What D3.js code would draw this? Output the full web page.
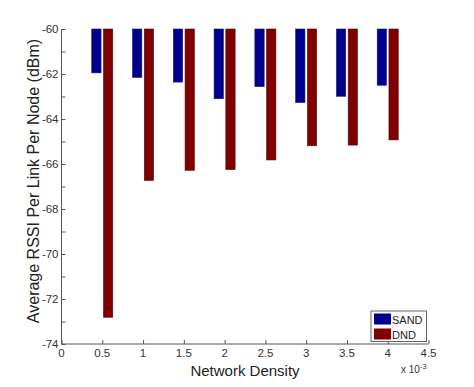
<!DOCTYPE html>
<html>
<head>
<meta charset="utf-8">
<script src="https://cdn.jsdelivr.net/npm/d3@7"></script>
<style>
  body { margin: 0; background: #fff; }
  svg { font-family: "Liberation Sans", Arial, sans-serif; }
</style>
</head>
<body>
<div id="chart"></div>
<script>
const width = 474;
const height = 387;

// density values (x 10^-3)
const densities = [0.5, 1, 1.5, 2, 2.5, 3, 3.5, 4];
const sandValues = [-61.95, -62.15, -62.36, -63.1, -62.56, -63.27, -62.99, -62.5];
const dndValues = [-72.81, -66.73, -66.28, -66.25, -65.82, -65.19, -65.16, -64.93];
const seriesNames = ['SAND', 'DND'];
const seriesColors = ['#00008f', '#800000'];
const xTicks = [0, 0.5, 1, 1.5, 2, 2.5, 3, 3.5, 4, 4.5];
const yLabelTicks = [-60, -62, -64, -66, -68, -70, -72, -74];

const margin = { left: 61.5, right: 474 - 428.5, top: 29, bottom: 387 - 344 };

const x = d3.scaleLinear().domain([0, 4.5]).range([margin.left, width - margin.right]);
const y = d3.scaleLinear().domain([-60, -74]).range([margin.top, height - margin.bottom]);

const barWidth = 0.114; // data units
const barOffset = 0.072;

const svg = d3.select('#chart')
  .append('svg')
  .attr('width', width)
  .attr('height', height);

const series = [sandValues, dndValues];

series.forEach((values, si) => {
  const off = si === 0 ? -barOffset : barOffset;
  svg.append('g')
    .selectAll('rect')
    .data(densities.map((d, i) => ({ d, v: values[i] })))
    .join('rect')
    .attr('x', p => x(p.d + off - barWidth / 2))
    .attr('width', x(barWidth) - x(0))
    .attr('y', y(-60))
    .attr('height', p => y(p.v) - y(-60))
    .attr('fill', seriesColors[si])
    .attr('stroke', si === 0 ? '#1a1a6a' : '#4a1010')
    .attr('stroke-width', 0.6);
});

// y axis
const yAxis = svg.append('g')
  .attr('transform', `translate(${margin.left},0)`)
  .call(d3.axisRight(y).tickValues(d3.range(-60, -74.5, -1)).tickSize(4).tickFormat(''));
yAxis.select('.domain').remove();
svg.append('line')
  .attr('x1', margin.left).attr('x2', margin.left)
  .attr('y1', y(-60)).attr('y2', y(-74))
  .attr('stroke', '#555').attr('stroke-width', 1);
yAxis.selectAll('line').attr('stroke', '#555');

svg.append('g')
  .selectAll('text')
  .data(yLabelTicks)
  .join('text')
  .attr('x', margin.left - 3)
  .attr('y', d => y(d) + 4)
  .attr('text-anchor', 'end')
  .attr('font-size', 11.5)
  .attr('fill', '#333')
  .text(d => d);

// x axis
const xAxis = svg.append('g')
  .attr('transform', `translate(0,${y(-74)})`)
  .call(d3.axisTop(x).tickValues(xTicks).tickSize(4).tickFormat(''));
xAxis.select('.domain').remove();
xAxis.selectAll('line').attr('stroke', '#555');
svg.append('line')
  .attr('x1', margin.left).attr('x2', x(4.5))
  .attr('y1', y(-74)).attr('y2', y(-74))
  .attr('stroke', '#555').attr('stroke-width', 1);

svg.append('g')
  .selectAll('text')
  .data(xTicks)
  .join('text')
  .attr('x', d => x(d))
  .attr('y', y(-74) + 13)
  .attr('text-anchor', 'middle')
  .attr('font-size', 11.5)
  .attr('fill', '#333')
  .text(d => d);

// axis titles
svg.append('text')
  .attr('x', 245)
  .attr('y', 376)
  .attr('text-anchor', 'middle')
  .attr('font-size', 15)
  .attr('fill', '#222')
  .text('Network Density');

svg.append('text')
  .attr('transform', `translate(38.5,${181}) rotate(-90)`)
  .attr('text-anchor', 'middle')
  .attr('font-size', 16)
  .attr('fill', '#222')
  .text('Average RSSI Per Link Per Node (dBm)');

const exp = svg.append('text')
  .attr('x', 401)
  .attr('y', 373)
  .attr('font-size', 10)
  .attr('fill', '#333');
exp.append('tspan').text('x 10');
exp.append('tspan').attr('dy', -4).attr('font-size', 7.5).text('-3');

// legend
const legend = svg.append('g').attr('transform', 'translate(371,311)');
legend.append('rect')
  .attr('width', 55.5).attr('height', 30.5)
  .attr('fill', '#fff').attr('stroke', '#666').attr('stroke-width', 1);
seriesNames.forEach((name, i) => {
  legend.append('rect')
    .attr('x', 3).attr('y', 2.5 + i * 15)
    .attr('width', 17).attr('height', 11)
    .attr('fill', seriesColors[i]);
  legend.append('text')
    .attr('x', 21).attr('y', 12.5 + i * 15)
    .attr('font-size', 11)
    .attr('fill', '#222')
    .text(name);
});
</script>
</body>
</html>
